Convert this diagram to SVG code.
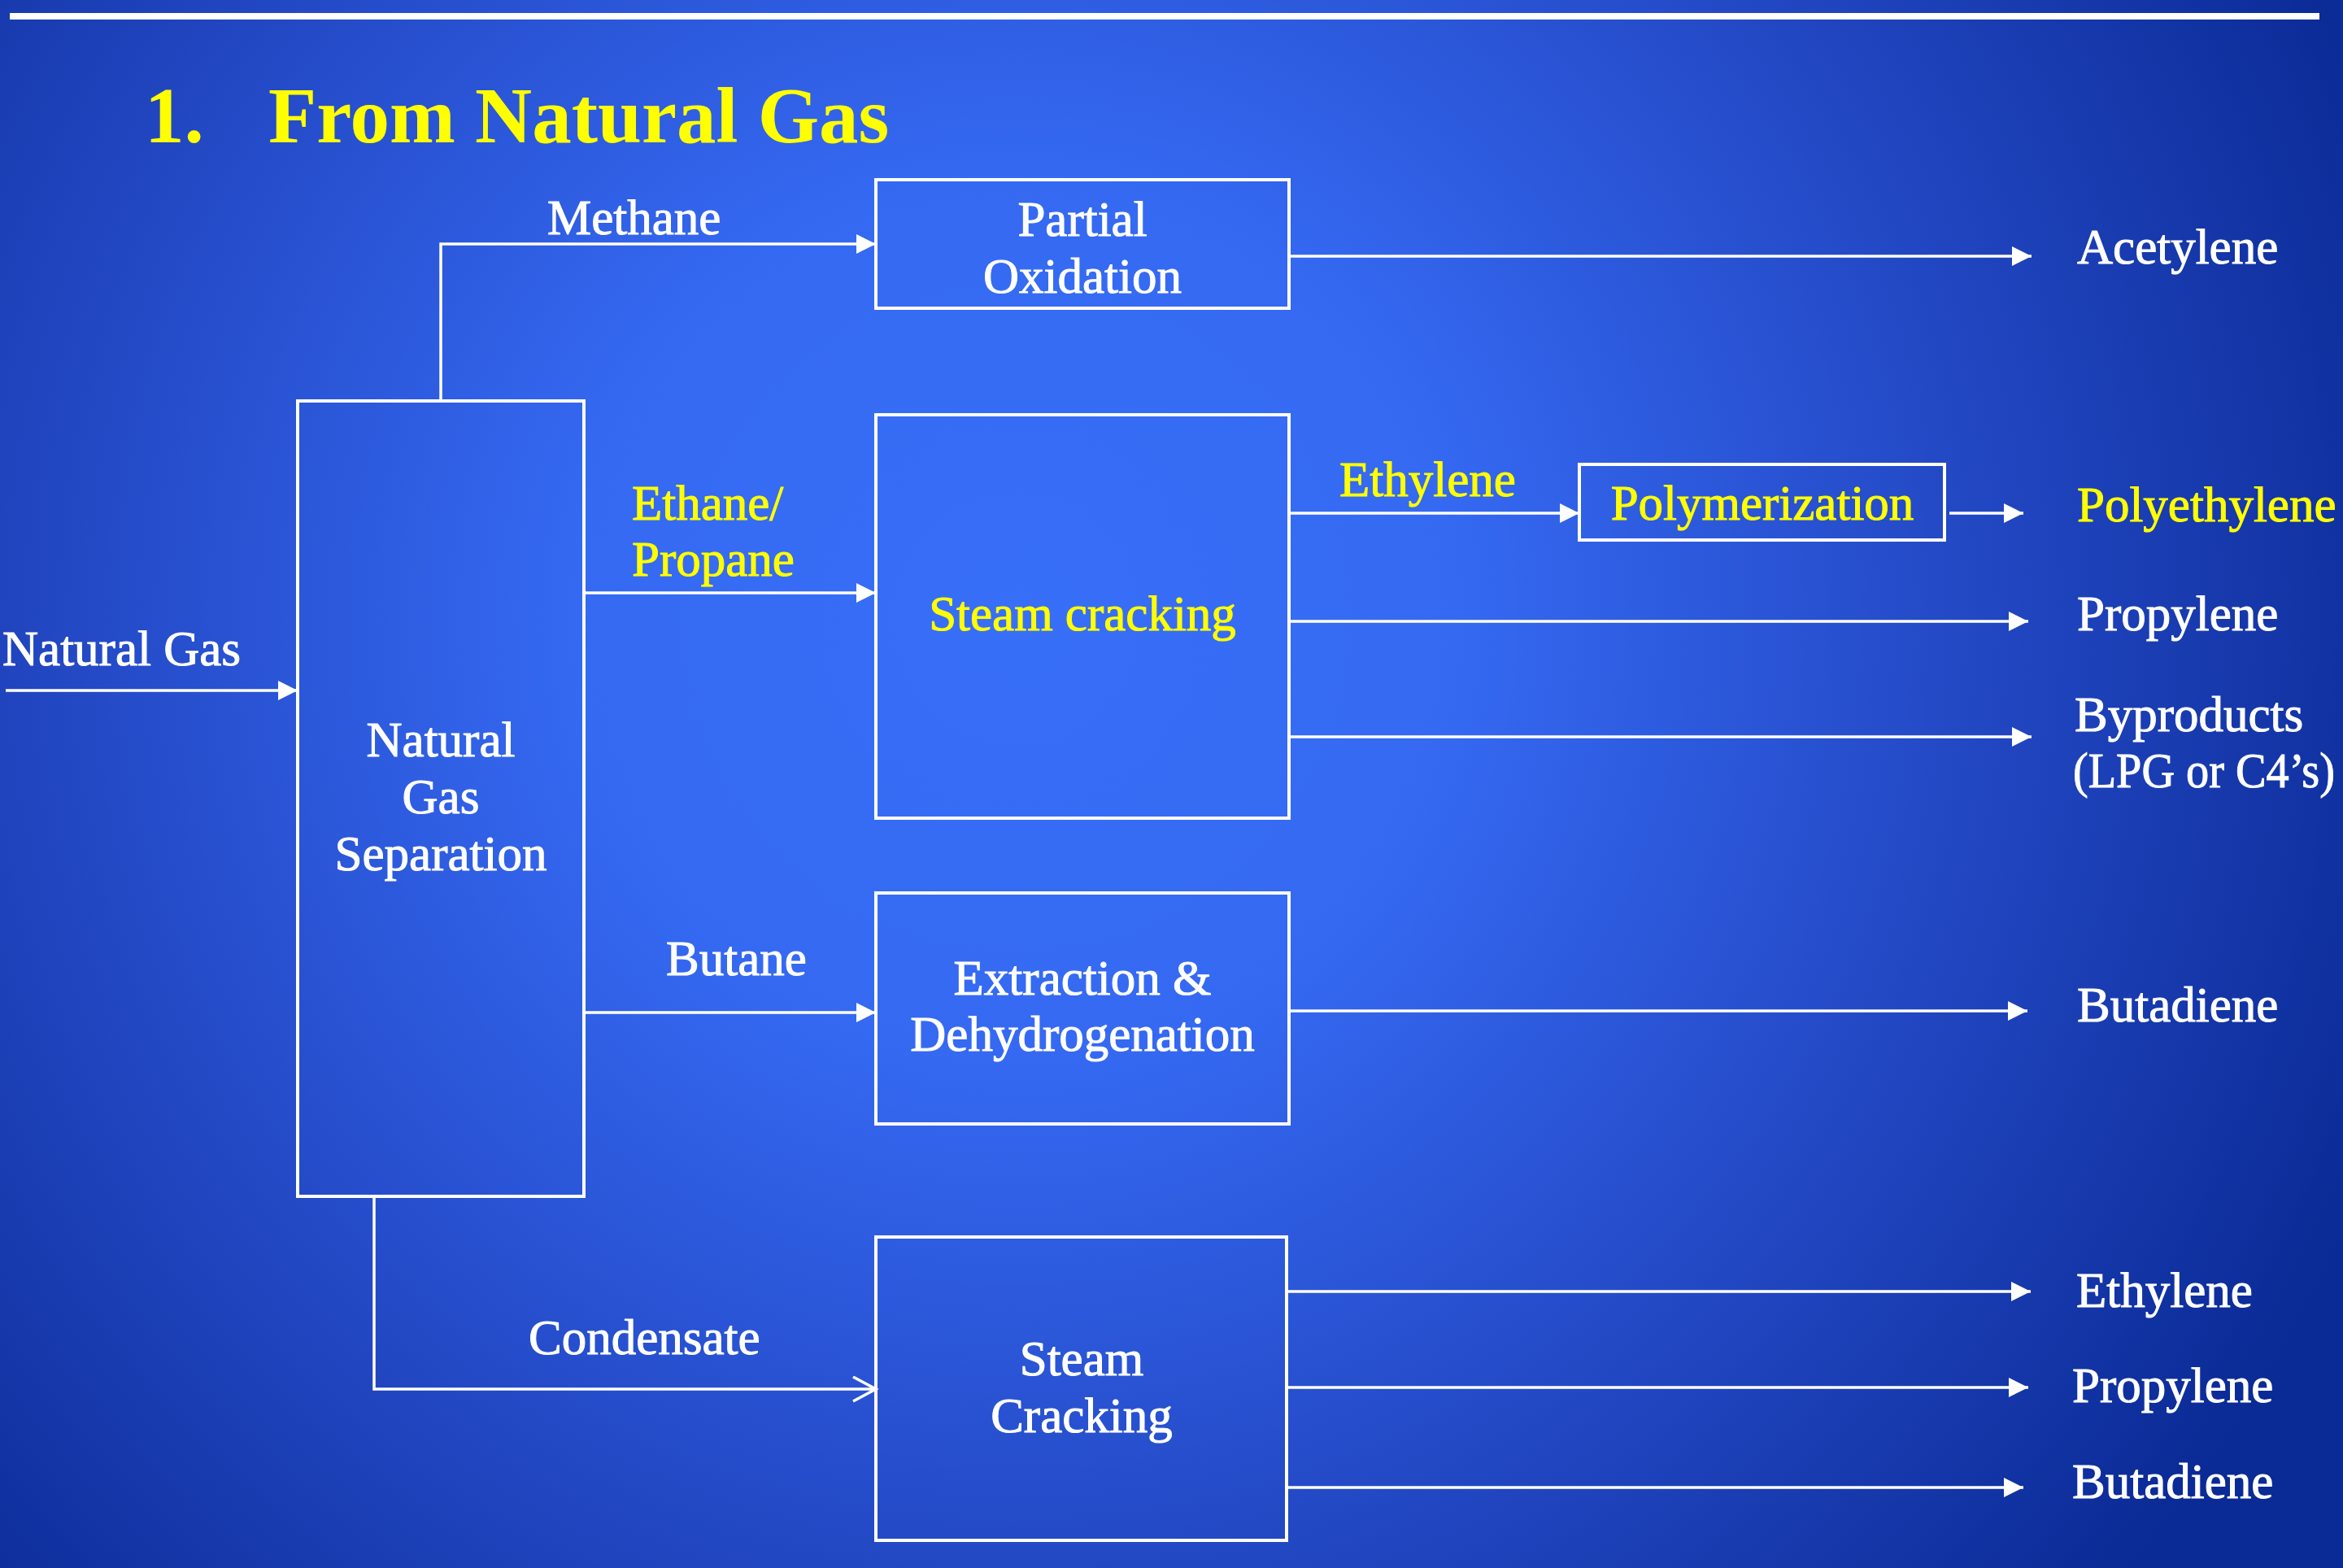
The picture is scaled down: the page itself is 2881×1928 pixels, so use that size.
<svg xmlns="http://www.w3.org/2000/svg" width="2881" height="1928" viewBox="0 0 2881 1928">
<defs>
<radialGradient id="bg" gradientUnits="userSpaceOnUse" cx="1250" cy="760" r="1800">
<stop offset="0" stop-color="#386ff8"/>
<stop offset="0.3" stop-color="#3569f2"/>
<stop offset="0.65" stop-color="#2348c4"/>
<stop offset="1" stop-color="#0a2a95"/>
</radialGradient>
<marker id="arr" markerUnits="userSpaceOnUse" markerWidth="26" markerHeight="26" refX="24" refY="12" orient="auto">
<path d="M0,0 L24,12 L0,24 Z" fill="#ffffff"/>
</marker>
<marker id="open" markerUnits="userSpaceOnUse" markerWidth="34" markerHeight="36" refX="29" refY="16" orient="auto">
<path d="M1,1 L29,16 L1,31" fill="none" stroke="#ffffff" stroke-width="3.5"/>
</marker>
</defs>
<style>
.box{fill:none;stroke:#ffffff;stroke-width:4}
.ln{fill:none;stroke:#ffffff;stroke-width:3.5}
.t{font-family:"Liberation Serif","Times New Roman",serif;font-size:61px;fill:#ffffff;stroke:#ffffff;stroke-width:1}
.y{fill:#ffff00;stroke:#ffff00}
.c{text-anchor:middle}
.title{font-family:"Liberation Serif","Times New Roman",serif;font-size:97px;font-weight:bold;fill:#ffff00}
</style>
<rect x="0" y="0" width="2881" height="1928" fill="url(#bg)"/>
<rect x="12" y="16" width="2840" height="8" fill="#ffffff"/>
<g id="title">
<text class="title" x="178" y="175">1.</text>
<text class="title" x="330" y="175">From Natural Gas</text>
</g>

<g id="connectors">
<path class="ln" d="M7,849 H366" marker-end="url(#arr)"/>
<path class="ln" d="M542,493 V300 H1077" marker-end="url(#arr)"/>
<path class="ln" d="M1585,315 H2498" marker-end="url(#arr)"/>
<path class="ln" d="M718,729 H1077" marker-end="url(#arr)"/>
<path class="ln" d="M1585,631 H1942" marker-end="url(#arr)"/>
<path class="ln" d="M2397,631 H2488" marker-end="url(#arr)"/>
<path class="ln" d="M1585,764 H2494" marker-end="url(#arr)"/>
<path class="ln" d="M1585,906 H2498" marker-end="url(#arr)"/>
<path class="ln" d="M720,1245 H1077" marker-end="url(#arr)"/>
<path class="ln" d="M1585,1243 H2493" marker-end="url(#arr)"/>
<path class="ln" d="M460,1471 V1708 H1077" marker-end="url(#open)"/>
<path class="ln" d="M1582,1588 H2497" marker-end="url(#arr)"/>
<path class="ln" d="M1582,1706 H2494" marker-end="url(#arr)"/>
<path class="ln" d="M1582,1829 H2488" marker-end="url(#arr)"/>
</g>

<g id="labels">
<text class="t" x="3" y="818">Natural Gas</text>
<text class="t" x="673" y="288">Methane</text>
<text class="t y" x="777" y="639">Ethane/</text>
<text class="t y" x="777" y="708">Propane</text>
<text class="t" x="819" y="1199">Butane</text>
<text class="t" x="650" y="1665">Condensate</text>
<text class="t y" x="1647" y="610">Ethylene</text>
</g>

<g id="node-ngs">
<rect class="box" x="366" y="493" width="352" height="978"/>
<text class="t c" x="542" y="930">Natural</text>
<text class="t c" x="542" y="1000">Gas</text>
<text class="t c" x="542" y="1070">Separation</text>
</g>
<g id="node-partial-oxidation">
<rect class="box" x="1077" y="221" width="508" height="158"/>
<text class="t c" x="1331" y="290">Partial</text>
<text class="t c" x="1331" y="360">Oxidation</text>
</g>
<g id="node-steam-cracking-1">
<rect class="box" x="1077" y="510" width="508" height="496"/>
<text class="t y c" x="1331" y="775">Steam cracking</text>
</g>
<g id="node-polymerization">
<rect class="box" x="1942" y="571" width="449" height="93"/>
<text class="t y c" x="2167" y="639">Polymerization</text>
</g>
<g id="node-extraction">
<rect class="box" x="1077" y="1098" width="508" height="284"/>
<text class="t c" x="1331" y="1223">Extraction &amp;</text>
<text class="t c" x="1331" y="1292">Dehydrogenation</text>
</g>
<g id="node-steam-cracking-2">
<rect class="box" x="1077" y="1521" width="505" height="373"/>
<text class="t c" x="1330" y="1691">Steam</text>
<text class="t c" x="1330" y="1761">Cracking</text>
</g>

<g id="products">
<text class="t" x="2554" y="324">Acetylene</text>
<text class="t y" x="2554" y="641" font-size="60">Polyethylene</text>
<text class="t" x="2554" y="775">Propylene</text>
<text class="t" x="2551" y="899">Byproducts</text>
<text class="t" x="2549" y="968" font-size="58" textLength="322" lengthAdjust="spacingAndGlyphs">(LPG or C4’s)</text>
<text class="t" x="2554" y="1256">Butadiene</text>
<text class="t" x="2553" y="1607">Ethylene</text>
<text class="t" x="2548" y="1724">Propylene</text>
<text class="t" x="2548" y="1842">Butadiene</text>
</g>
</svg>
